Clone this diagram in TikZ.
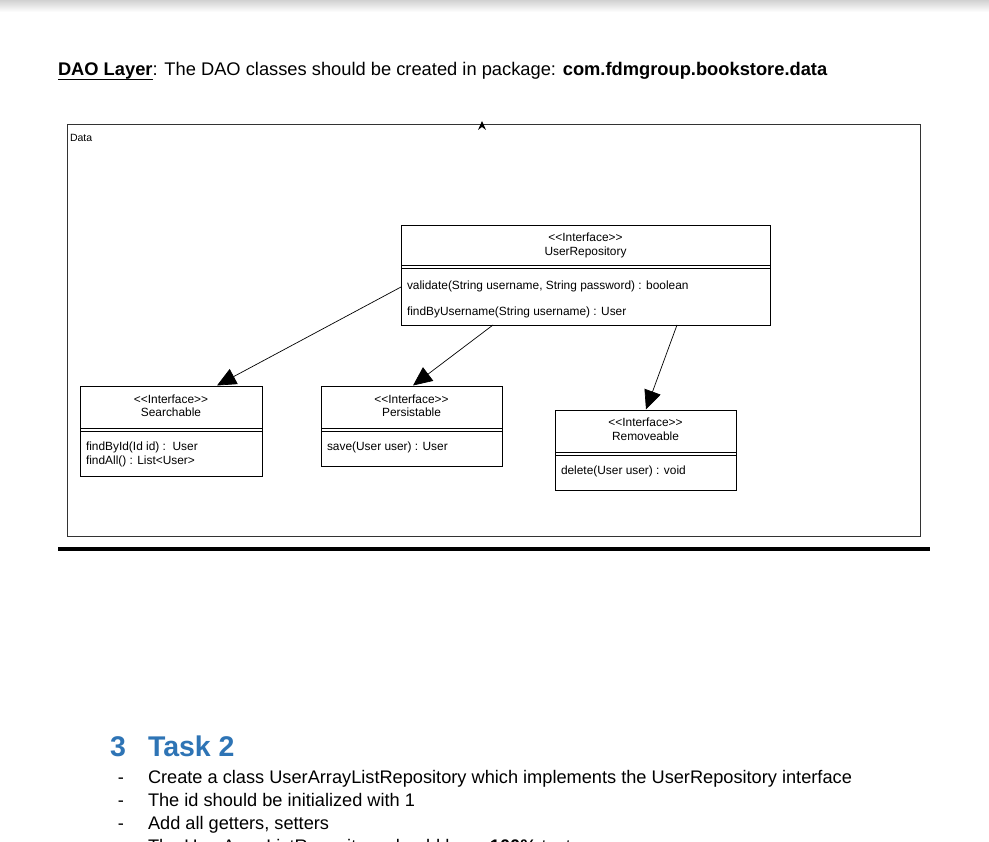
\documentclass[tikz,border=0pt]{standalone}
\usepackage{fontspec}
\setmainfont{Liberation Sans}
\newfontfamily\umlfont{Liberation Sans}
\usetikzlibrary{arrows.meta,calc}
\definecolor{headblue}{RGB}{46,116,181}
\begin{document}
\begin{tikzpicture}[x=1pt,y=-1pt,
  txt/.style={inner sep=0pt,outer sep=0pt},
  umlbox/.style={draw=black,line width=0.8pt,inner sep=0pt,anchor=north west},
  uml/.style={txt,font=\umlfont\fontsize{11.9}{13}\selectfont},
  impl/.style={line width=0.7pt,-{Triangle[length=19pt,width=17pt]}},
  body/.style={txt,font=\fontsize{18.2}{22}\selectfont,anchor=base west}]
\useasboundingbox (0,0) rectangle (989,842);
\fill[white] (0,0) rectangle (989,842);
\shade[top color=black!18,bottom color=white] (0,0) rectangle (989,12);

% title
\node[txt,anchor=base west,font=\fontsize{18.3}{22}\selectfont\bfseries] (dao) at (58,76) {DAO Layer};
\node[txt,anchor=base west,font=\fontsize{18.3}{22}\selectfont] (rest) at (dao.base east) {: The DAO classes should be created in package: \textbf{com.fdmgroup.bookstore.data}};
\draw[line width=1.8pt] ($(dao.base west)+(0,3.5)$) -- ($(dao.base east)+(0,3.5)$);

% package
\node[umlbox,minimum width=853,minimum height=412,line width=0.9pt,draw=black!80] (pkg) at (67,124) {};
\node[txt,anchor=base west,font=\umlfont\fontsize{10.5}{12}\selectfont] (pkglbl) at (70,142) {Data};
\coordinate (tipA) at (482,121);
\fill (tipA) -- ++(-4,9) -- ++(4,-3) -- ++(4,3) -- cycle;

% UserRepository
\node[umlbox,minimum width=369,minimum height=100] (ur) at (401,225) {};
\node[uml,anchor=base] (urs) at (585.5,242) {<<Interface>>};
\node[uml,anchor=base] (urn) at (585.5,256) {UserRepository};
\draw[line width=0.8pt] (401,265) -- (770,265) (401,268.5) -- (770,268.5);
\node[uml,anchor=base west] (urm1) at (407,290) {validate(String username, String password) : boolean};
\node[uml,anchor=base west] (urm2) at (407,316) {findByUsername(String username) : User};

% Searchable
\node[umlbox,minimum width=182,minimum height=90] (srch) at (80,386) {};
\node[uml,anchor=base] (ss) at (171,404) {<<Interface>>};
\node[uml,anchor=base] (sn) at (171,417) {Searchable};
\draw[line width=0.8pt] (80,428) -- (262,428) (80,431.5) -- (262,431.5);
\node[uml,anchor=base west] (sm1) at (86,451) {findById(Id id) :\ \ User};
\node[uml,anchor=base west] (sm2) at (86,465) {findAll() : List<User>};

% Persistable
\node[umlbox,minimum width=181,minimum height=80] (pers) at (321,386) {};
\node[uml,anchor=base] (ps) at (411.5,404) {<<Interface>>};
\node[uml,anchor=base] (pn) at (411.5,417) {Persistable};
\draw[line width=0.8pt] (321,428) -- (502,428) (321,431.5) -- (502,431.5);
\node[uml,anchor=base west] (pm1) at (327,451) {save(User user) : User};

% Removeable
\node[umlbox,minimum width=181,minimum height=80] (rem) at (555,410) {};
\node[uml,anchor=base] (rs) at (645.5,427) {<<Interface>>};
\node[uml,anchor=base] (rn) at (645.5,441) {Removeable};
\draw[line width=0.8pt] (555,452) -- (736,452) (555,455.5) -- (736,455.5);
\node[uml,anchor=base west] (rm1) at (561,475) {delete(User user) : void};

% connectors
\coordinate (s1) at (401,287);
\coordinate (e1) at (217,385.5);
\coordinate (s2) at (493,325);
\coordinate (e2) at (413,385.5);
\coordinate (s3) at (677,325);
\coordinate (e3) at (646,409.5);
\draw[impl] (s1) -- (e1);
\draw[impl] (s2) -- (e2);
\draw[impl] (s3) -- (e3);

% separator
\draw[line width=4pt] (58,548.5) -- (930,548.5);

% heading
\node[txt,anchor=base west,font=\fontsize{28.5}{32}\selectfont\bfseries,text=headblue] (h3) at (110,756) {3};
\node[txt,anchor=base west,font=\fontsize{28.5}{32}\selectfont\bfseries,text=headblue] (ht) at (148,756) {Task 2};

% bullets
\node[body,anchor=base] (d1) at (121,783) {-};
\node[body] (b1) at (148,783) {Create a class UserArrayListRepository which implements the UserRepository interface};
\node[body,anchor=base] (d2) at (121,806) {-};
\node[body] (b2) at (148,806) {The id should be initialized with 1};
\node[body,anchor=base] (d3) at (121,829) {-};
\node[body] (b3) at (148,829) {Add all getters, setters};
\begin{scope}
\clip (0,0) rectangle (989,842);
\node[body,anchor=base] (d4) at (121,852) {-};
\node[body] (b4) at (148,852) {The UserArrayListRepository should have \textbf{100\%} test};
\end{scope}
\end{tikzpicture}
\end{document}
